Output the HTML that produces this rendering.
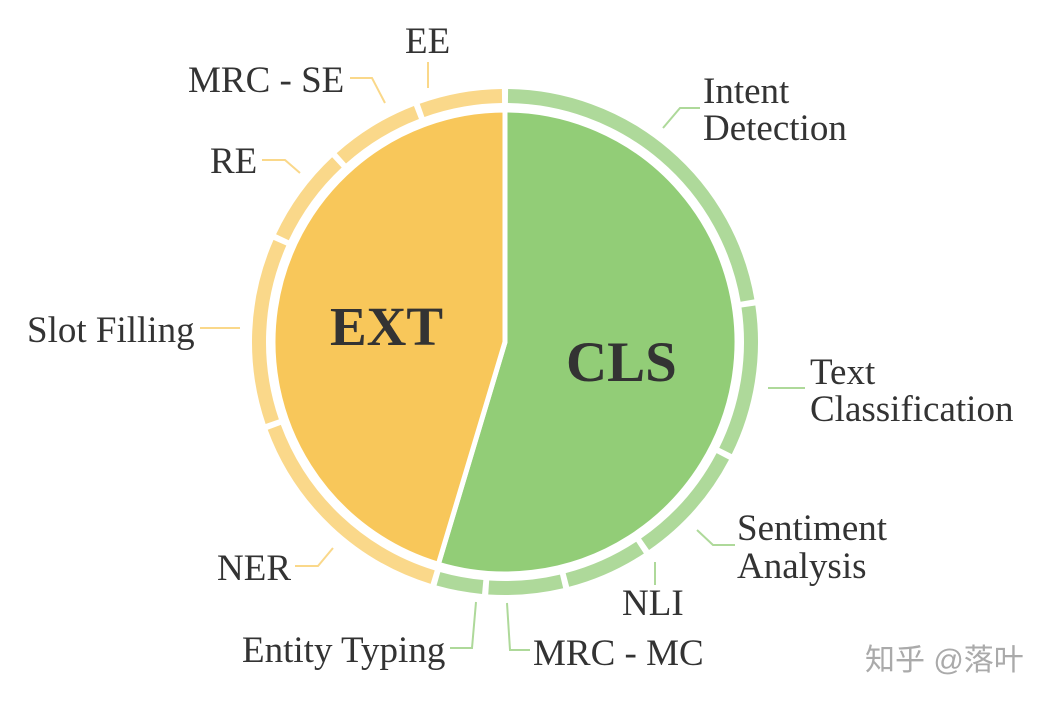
<!DOCTYPE html>
<html><head><meta charset="utf-8"><style>
html,body{margin:0;padding:0;background:#fff;width:1054px;height:704px;overflow:hidden}
svg{display:block}
text{font-family:"Liberation Serif",serif;fill:#333;font-size:37px}
.b{font-weight:bold}
</style></head><body>
<svg id="s" width="1054" height="704" viewBox="0 0 1054 704" xmlns="http://www.w3.org/2000/svg"></svg>
<script>
const s=document.getElementById('s');const cx=505,cy=342;
function pt(r,a){const t=a*Math.PI/180;return [cx+r*Math.sin(t),cy-r*Math.cos(t)];}
function add(h){s.insertAdjacentHTML('beforeend',h);}
function wedge(a0,a1,r,c){const p=pt(r,a0),q=pt(r,a1);add(`<path d="M${cx},${cy} L${p[0]},${p[1]} A${r},${r} 0 ${a1-a0>180?1:0} 1 ${q[0]},${q[1]} Z" fill="${c}" stroke="#fff" stroke-width="5" stroke-linejoin="round"/>`);}
wedge(0,196.7,232,'#92CD77');wedge(196.7,360,232,'#F8C75A');
function arc(a0,a1,c){const r=246;const p=pt(r,a0),q=pt(r,a1);add(`<path d="M${p[0]},${p[1]} A${r},${r} 0 ${a1-a0>180?1:0} 1 ${q[0]},${q[1]}" fill="none" stroke="${c}" stroke-width="14"/>`);}
const G='#AED99A',O='#FAD88A';
const b=[[0,81,G],[81,117,G],[117,146,G],[146,166,G],[166,184.5,G],[184.5,196.4,G],[196.4,250.4,O],[250.4,294.5,O],[294.5,317.6,O],[317.6,339.6,O],[339.6,360,O]];
const g=0.7;b.forEach(x=>arc(x[0]+g,x[1]-g,x[2]));
function line(pts,c){add(`<polyline points="${pts}" fill="none" stroke="${c}" stroke-width="2"/>`);}
line("428,62 428,88",O);line("350,78 372,78 385,103",O);line("262,160 285,160 300,173",O);
line("200,328 240,328",O);line("295,566 318,566 333,548",O);
line("450,648 472,648 476,602",G);line("530,650 510,650 507,603",G);line("655,585 655,562",G);
line("735,545 713,545 697,530",G);line("805,388 768,388",G);line("700,108 680,108 663,128",G);
const L=[["EE",405,53],["MRC - SE",188,92],["RE",210,173],["Slot Filling",27,342],["NER",217,580],["Entity Typing",242,662],["MRC - MC",533,665],["NLI",622,615],["Sentiment",737,540],["Analysis",737,578],["Text",810,384],["Classification",810,421],["Intent",703,103],["Detection",703,140]];
L.forEach(l=>add(`<text x="${l[1]}" y="${l[2]}">${l[0]}</text>`));
add(`<text class="b" x="330" y="345" style="font-size:55px">EXT</text>`);
add(`<text class="b" x="566" y="381" style="font-size:57px">CLS</text>`);
add(`<text x="865" y="670" style="font-size:30px;fill:#aaa;font-family:'Liberation Sans','Noto Sans CJK SC',sans-serif">知乎 @落叶</text>`);
</script>
</body></html>
